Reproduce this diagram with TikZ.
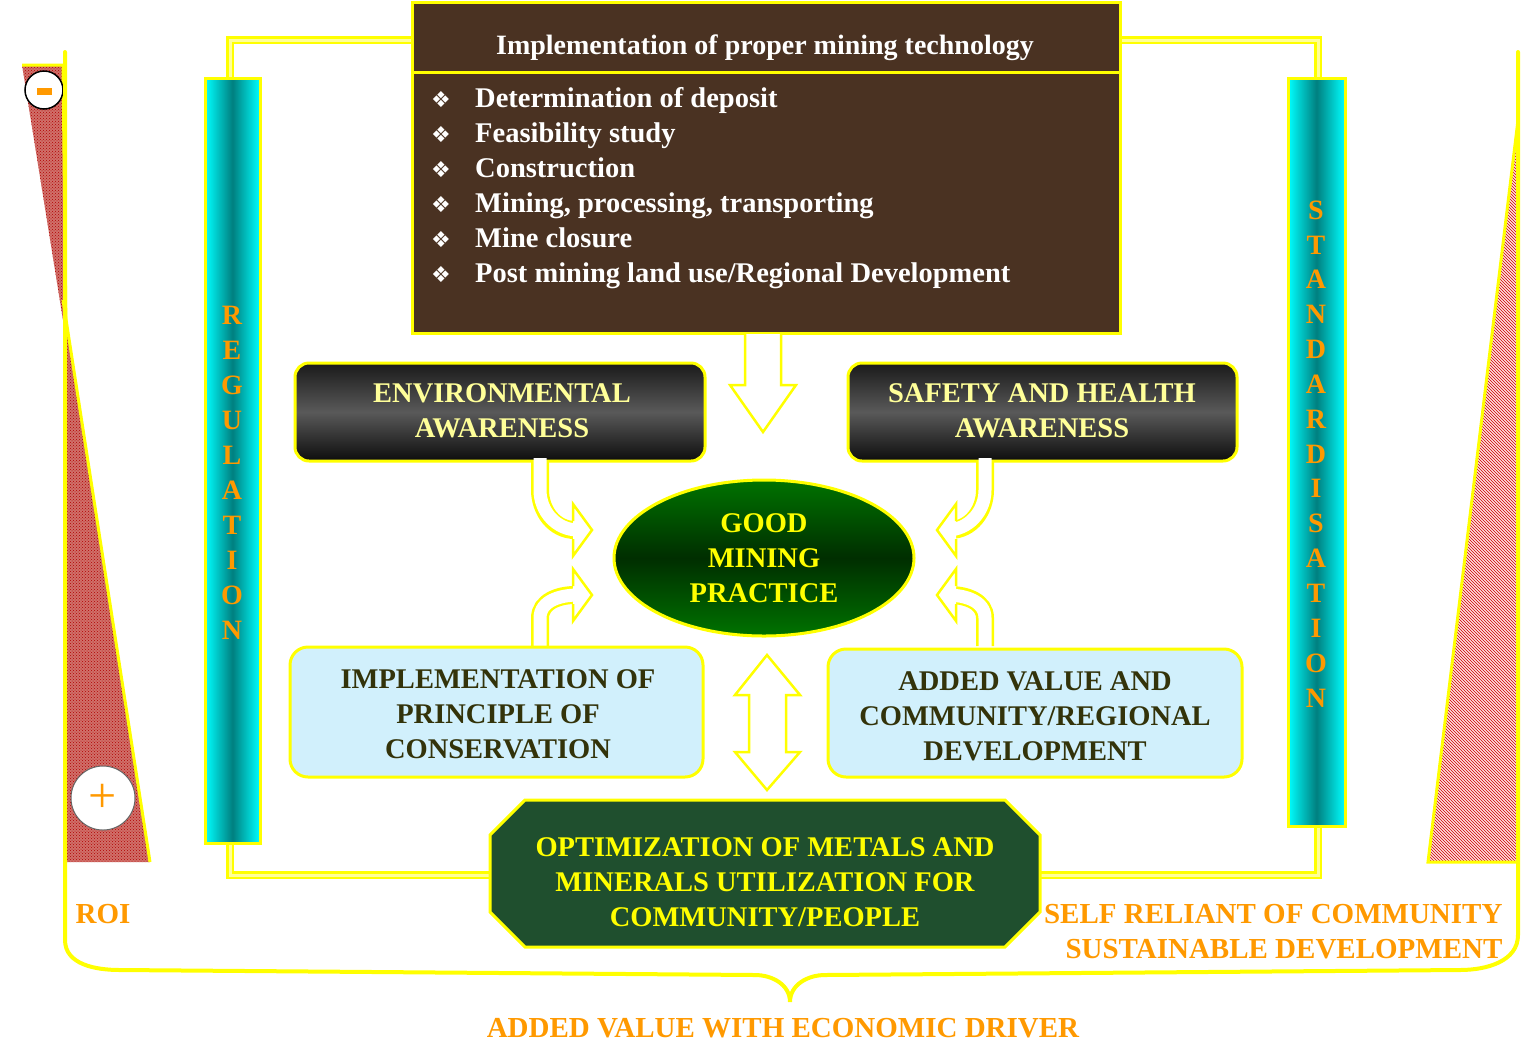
\documentclass[tikz,border=0pt]{standalone}
\usepackage{fontspec}
\setmainfont{Liberation Serif}
\newfontfamily\dejavufont{DejaVu Sans}
\usetikzlibrary{patterns,shapes.geometric}
\definecolor{org}{HTML}{FF9900}
\definecolor{ylw}{HTML}{FFFF00}
\definecolor{lyl}{HTML}{FFFF99}
\definecolor{wood}{HTML}{4A3222}
\definecolor{olv}{HTML}{33330A}
\definecolor{mar}{HTML}{1F4F2E}
\definecolor{trired}{HTML}{D0706A}
\begin{document}
\begin{tikzpicture}[x=1pt,y=-1pt,
 yl/.style={draw=ylw,line width=3},
 conn/.style={draw=ylw,line width=2.5,double=lyl,double distance=3},
 bar/.style={draw=ylw,line width=3,left color=cyan,right color=cyan,middle color=teal},
 letter/.style={text=org,font=\fontsize{28}{28}\selectfont\bfseries},
 darkbox/.style={draw=ylw,line width=3,rounded corners=14,top color=black!90,bottom color=black!95,middle color=black!65},
 bluebox/.style={draw=ylw,line width=3,rounded corners=18,fill=cyan!18!white},
 boxtext/.style={align=center,font=\fontsize{28.5}{35}\selectfont\bfseries},
 hollow/.style={draw=ylw,line width=2.5,fill=white,line join=miter},
 band/.style={draw=ylw,line width=18},
 bandin/.style={draw=white,line width=13},
 lab/.style={text=org,font=\fontsize{29}{35}\selectfont\bfseries}]
\useasboundingbox (0,0) rectangle (1522,1053);
% connectors frame
\draw[conn] (230,80) -- (230,40) -- (412,40);
\draw[conn] (1120,40) -- (1318,40) -- (1318,80);
\draw[conn] (230,843) -- (230,875) -- (492,875);
\draw[conn] (1318,826) -- (1318,875) -- (1040,875);
% left triangle
\fill[trired] (22,65) -- (63,65) -- (63,320) -- cycle;
\fill[trired] (63,300) -- (150,862) -- (65,862) -- cycle;
\fill[pattern=crosshatch dots,pattern color=red!70!black] (22,65) -- (63,65) -- (63,320) -- cycle;
\fill[pattern=crosshatch dots,pattern color=red!70!black] (63,300) -- (150,862) -- (65,862) -- cycle;
\draw[yl] (22,65) -- (63,65) -- (66,330);
\draw[yl] (63,300) -- (150,862);
\node[circle,draw=black,line width=1.5,fill=white,minimum size=38,inner sep=0] (minus) at (44,90) {};
\fill[org] (37,88) rectangle (52,95);
\node[circle,draw=black!60,line width=1,fill=white,minimum size=64,inner sep=0,text=org,font=\fontsize{50}{50}\selectfont] (plus) at (103,798) {+};
% right triangle
\fill[red!12] (1518,120) -- (1518,862) -- (1428,862) -- cycle;
\fill[pattern=north west lines,pattern color=red!80!black] (1518,120) -- (1518,862) -- (1428,862) -- cycle;
\draw[yl] (1518,120) -- (1428,862) -- (1518,862);
% brace
\draw[draw=ylw,line width=4,line cap=round] (65,52) -- (65,940) to[out=-90,in=180] (120,970) -- (755,975) to[out=0,in=90] (790,1002) to[out=90,in=180] (825,975) -- (1460,970) to[out=0,in=-90] (1518,935) -- (1518,52);
% bars
\draw[bar] (205,78) rectangle (260,843);
\draw[bar] (1288,78) rectangle (1345,826);
\foreach \c [count=\i] in {R,E,G,U,L,A,T,I,O,N}
  \node[letter] (reg\i) at (232,{315+35*(\i-1)}) {\c};
\foreach \c [count=\i] in {S,T,A,N,D,A,R,D,I,S,A,T,I,O,N}
  \node[letter] (std\i) at (1316,{210+34.85*(\i-1)}) {\c};
% top box
\draw[yl,fill=wood] (412,2) rectangle (1120,333);
\draw[yl] (412,72) -- (1120,72);
\node[text=white,font=\fontsize{28}{28}\selectfont\bfseries] (title) at (765,48) {Implementation of proper mining technology};
\foreach \t [count=\i] in {Determination of deposit,Feasibility study,Construction,{Mining, processing, transporting},Mine closure,Post mining land use/Regional Development}{
  \node[anchor=base,text=white,font=\dejavufont\fontsize{22}{22}\selectfont,inner sep=0] (b\i) at (441,{107+35*(\i-1)}) {❖};
  \node[anchor=base west,text=white,font=\fontsize{28.5}{28}\selectfont\bfseries,inner sep=0] (t\i) at (475,{107+35*(\i-1)}) {\t};}
% down arrow
\draw[hollow] (745,334) -- (745,385) -- (730,385) -- (763,432) -- (796,385) -- (781,385) -- (781,334);
% dark boxes
\draw[darkbox] (295,363) rectangle (705,461);
\node[boxtext,text=lyl] (env) at (502,411) {ENVIRONMENTAL\\AWARENESS};
\draw[darkbox] (848,363) rectangle (1237,461);
\node[boxtext,text=lyl] (saf) at (1042,411) {SAFETY AND HEALTH\\AWARENESS};
% curved arrows left
\draw[band] (540,462) -- (540,490) to[out=-90,in=180] (575,530);
\draw[band] (540,646) -- (540,618) to[out=90,in=180] (575,595);
\draw[bandin] (540,458) -- (540,490) to[out=-90,in=180] (578,530);
\draw[bandin] (540,650) -- (540,618) to[out=90,in=180] (578,595);
\draw[hollow] (573,521) -- (573,504) -- (592,530) -- (573,556) -- (573,539);
\draw[hollow] (573,586) -- (573,569) -- (592,595) -- (573,621) -- (573,604);
% curved arrows right
\draw[band] (985,462) -- (985,490) to[out=-90,in=0] (950,530);
\draw[band] (985,646) -- (985,618) to[out=90,in=0] (950,595);
\draw[bandin] (985,458) -- (985,490) to[out=-90,in=0] (947,530);
\draw[bandin] (985,650) -- (985,618) to[out=90,in=0] (947,595);
\draw[hollow] (956,521) -- (956,504) -- (937,530) -- (956,556) -- (956,539);
\draw[hollow] (956,586) -- (956,569) -- (937,595) -- (956,621) -- (956,604);
% ellipse
\node[ellipse,draw=ylw,line width=3,minimum width=300,minimum height=156,top color=green!45!black,bottom color=green!45!black,middle color=green!18!black,boxtext,text=ylw] (gmp) at (764,558) {GOOD\\MINING\\PRACTICE};
% double arrow
\draw[hollow] (767,655) -- (800,695) -- (786,695) -- (786,752) -- (800,752) -- (767,790) -- (735,752) -- (749,752) -- (749,695) -- (735,695) -- cycle;
% blue boxes
\draw[bluebox] (290,647) rectangle (703,777);
\node[boxtext,text=olv] (cons) at (498,714) {IMPLEMENTATION OF\\PRINCIPLE OF\\CONSERVATION};
\draw[bluebox] (828,649) rectangle (1242,777);
\node[boxtext,text=olv] (adv) at (1035,716) {ADDED VALUE AND\\COMMUNITY/REGIONAL\\DEVELOPMENT};
% octagon
\draw[yl,fill=mar] (525,800) -- (1005,800) -- (1040,835) -- (1040,912) -- (1005,947) -- (525,947) -- (490,912) -- (490,835) -- cycle;
\node[boxtext,text=ylw] (opt) at (765,882) {OPTIMIZATION OF METALS AND\\MINERALS UTILIZATION FOR\\COMMUNITY/PEOPLE};
% labels
\node[lab] (roi) at (103,914) {ROI};
\node[lab,anchor=east] (self1) at (1506,914) {SELF RELIANT OF COMMUNITY};
\node[lab,anchor=east] (self2) at (1506,949) {SUSTAINABLE DEVELOPMENT};
\node[lab] (adv2) at (783,1028) {ADDED VALUE WITH ECONOMIC DRIVER};
\end{tikzpicture}
\end{document}
